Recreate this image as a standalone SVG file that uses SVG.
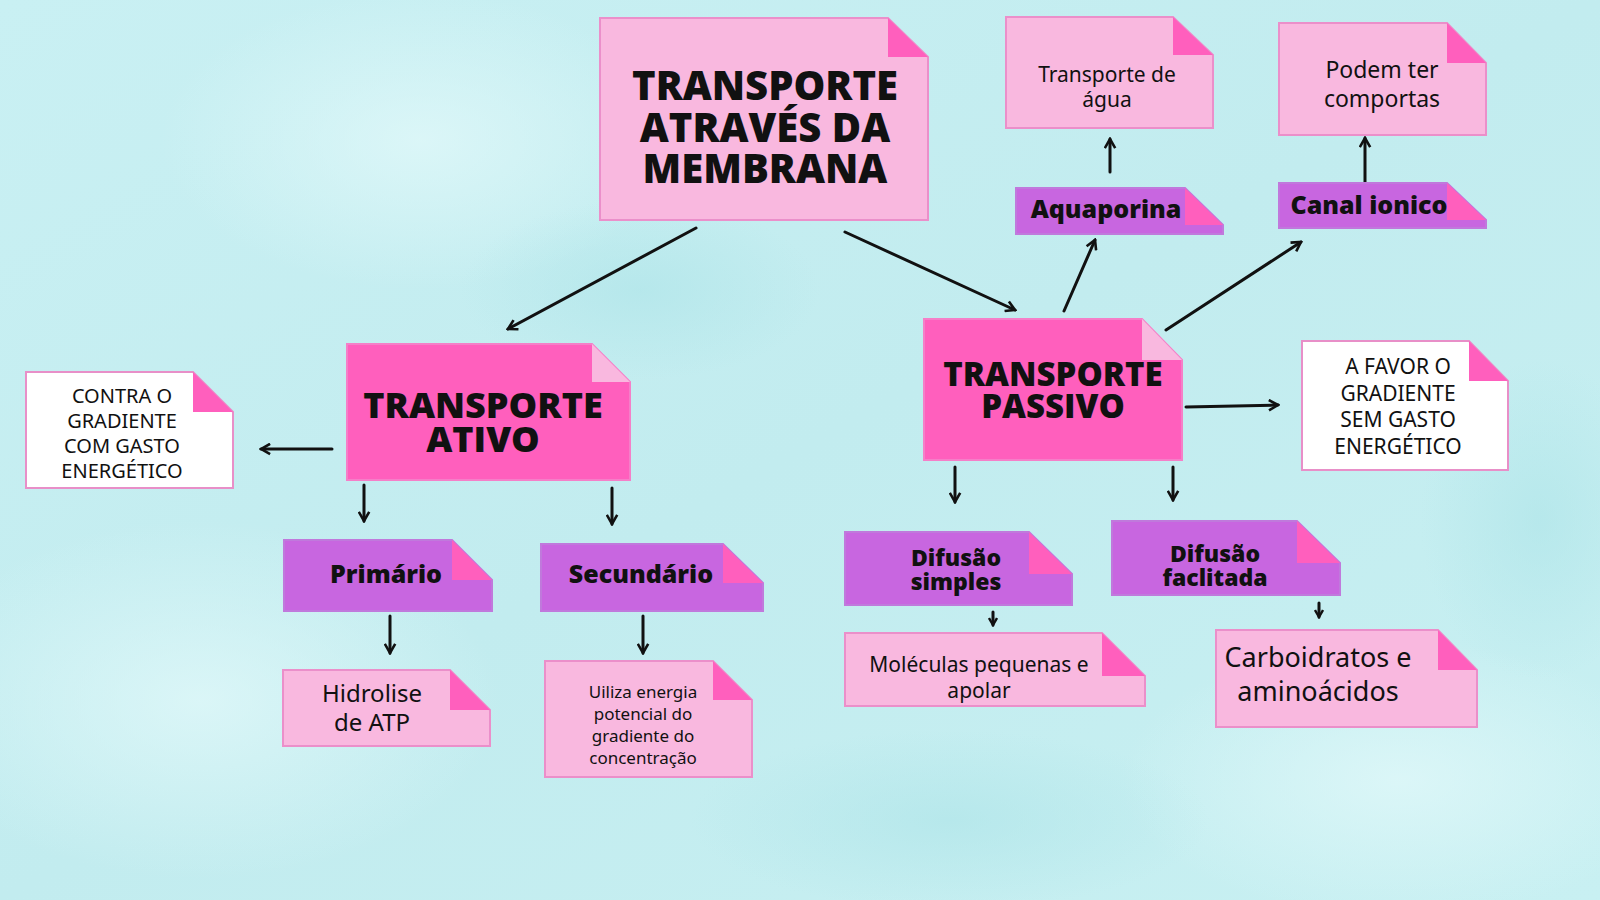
<svg xmlns="http://www.w3.org/2000/svg" width="1600" height="900" viewBox="0 0 1600 900">
<defs>
<linearGradient id="bg" x1="0" y1="0" x2="1" y2="1">
<stop offset="0" stop-color="#c9f0f3"/>
<stop offset="0.5" stop-color="#c2ecef"/>
<stop offset="1" stop-color="#c8f0f2"/>
</linearGradient>
<radialGradient id="blob1" cx="0.5" cy="0.5" r="0.5">
<stop offset="0" stop-color="#e0f8f9" stop-opacity="0.8"/>
<stop offset="1" stop-color="#e0f8f9" stop-opacity="0"/>
</radialGradient>
<radialGradient id="blob2" cx="0.5" cy="0.5" r="0.5">
<stop offset="0" stop-color="#ade4e8" stop-opacity="0.6"/>
<stop offset="1" stop-color="#ade4e8" stop-opacity="0"/>
</radialGradient>
<marker id="ah" viewBox="0 0 10 10" refX="8.5" refY="5" markerWidth="13" markerHeight="13" markerUnits="userSpaceOnUse" orient="auto">
<path d="M1.5,1 L8.5,5 L1.5,9" fill="none" stroke="#111" stroke-width="2" stroke-linejoin="miter"/>
</marker>
<marker id="ahs" viewBox="0 0 10 10" refX="8.5" refY="5" markerWidth="10" markerHeight="10" markerUnits="userSpaceOnUse" orient="auto">
<path d="M1.5,1 L8.5,5 L1.5,9" fill="none" stroke="#111" stroke-width="2.4"/>
</marker>
</defs>
<style>
.lp{fill:#f9b8df;stroke:#eb8fca;stroke-width:2}
.hp{fill:#ff5fbd;stroke:#f57fc8;stroke-width:2}
.pu{fill:#c866e0;stroke:#c079dc;stroke-width:2}
.wh{fill:#ffffff;stroke:#e88fc8;stroke-width:2}
.fd{fill:#ff5fbd}
.fl{fill:#f9b8df}
.tb{font-family:"Open Sans","Noto Sans",sans-serif;font-weight:800;fill:#111;text-anchor:middle}
.tr{font-family:"Noto Sans","Open Sans",sans-serif;font-weight:400;fill:#111;text-anchor:middle}
.ln{fill:none;stroke:#111;stroke-width:3;stroke-linecap:round}
</style>
<rect width="1600" height="900" fill="url(#bg)"/>
<ellipse cx="420" cy="140" rx="260" ry="150" fill="url(#blob1)"/>
<ellipse cx="200" cy="700" rx="300" ry="180" fill="url(#blob1)"/>
<ellipse cx="1400" cy="780" rx="280" ry="140" fill="url(#blob1)"/>
<ellipse cx="640" cy="290" rx="180" ry="90" fill="url(#blob2)"/>
<ellipse cx="950" cy="820" rx="260" ry="90" fill="url(#blob2)"/>
<ellipse cx="1540" cy="520" rx="120" ry="160" fill="url(#blob2)"/>

<g id="connectors">
<line class="ln" x1="696" y1="228" x2="508" y2="329" marker-end="url(#ah)"/>
<line class="ln" x1="845" y1="232" x2="1015" y2="310" marker-end="url(#ah)"/>
<line class="ln" x1="1064" y1="311" x2="1095" y2="240" marker-end="url(#ah)"/>
<line class="ln" x1="1166" y1="330" x2="1301" y2="242" marker-end="url(#ah)"/>
<line class="ln" x1="1186" y1="407" x2="1278" y2="405" marker-end="url(#ah)"/>
<line class="ln" x1="955" y1="467" x2="955" y2="502" marker-end="url(#ah)"/>
<line class="ln" x1="1173" y1="467" x2="1173" y2="500" marker-end="url(#ah)"/>
<line class="ln" x1="332" y1="449" x2="261" y2="449" marker-end="url(#ah)"/>
<line class="ln" x1="364" y1="485" x2="364" y2="521" marker-end="url(#ah)"/>
<line class="ln" x1="612" y1="488" x2="612" y2="524" marker-end="url(#ah)"/>
<line class="ln" x1="390" y1="616" x2="390" y2="653" marker-end="url(#ah)"/>
<line class="ln" x1="643" y1="616" x2="643" y2="653" marker-end="url(#ah)"/>
<line class="ln" x1="1110" y1="172" x2="1110" y2="139" marker-end="url(#ah)"/>
<line class="ln" x1="1365" y1="182" x2="1365" y2="138" marker-end="url(#ah)"/>
<line class="ln" x1="993" y1="612" x2="993" y2="625" marker-end="url(#ahs)"/>
<line class="ln" x1="1319" y1="603" x2="1319" y2="617" marker-end="url(#ahs)"/>
</g>

<g id="n-main">
<polygon class="lp" points="600,18 888,18 928,57 928,220 600,220"/>
<polygon class="fd" points="888,18 888,57 928,57"/>
<text class="tb" font-size="40" x="765" y="100">TRANSPORTE</text>
<text class="tb" font-size="40" x="765" y="142">ATRAVÉS DA</text>
<text class="tb" font-size="40" x="765" y="183">MEMBRANA</text>
</g>

<g id="n-ativo">
<polygon class="hp" points="347,344 592,344 630,382 630,480 347,480"/>
<polygon class="fl" points="592,344 592,382 630,382"/>
<text class="tb" font-size="36" x="483" y="418">TRANSPORTE</text>
<text class="tb" font-size="36" x="483" y="452">ATIVO</text>
</g>

<g id="n-contra">
<polygon class="wh" points="26,372 193,372 233,412 233,488 26,488"/>
<polygon class="fd" points="193,372 193,412 233,412"/>
<text class="tr" font-size="20" x="122" y="403">CONTRA O</text>
<text class="tr" font-size="20" x="122" y="428">GRADIENTE</text>
<text class="tr" font-size="20" x="122" y="453">COM GASTO</text>
<text class="tr" font-size="20" x="122" y="478">ENERGÉTICO</text>
</g>

<g id="n-primario">
<polygon class="pu" points="284,540 452,540 492,580 492,611 284,611"/>
<polygon class="fd" points="452,540 452,580 492,580"/>
<text class="tb" font-size="25" x="386" y="583">Primário</text>
</g>

<g id="n-secundario">
<polygon class="pu" points="541,544 723,544 763,583 763,611 541,611"/>
<polygon class="fd" points="723,544 723,583 763,583"/>
<text class="tb" font-size="25" x="641" y="583">Secundário</text>
</g>

<g id="n-hidrolise">
<polygon class="lp" points="283,670 450,670 490,710 490,746 283,746"/>
<polygon class="fd" points="450,670 450,710 490,710"/>
<text class="tr" font-size="24" x="372" y="702">Hidrolise</text>
<text class="tr" font-size="24" x="372" y="731">de ATP</text>
</g>

<g id="n-utiliza">
<polygon class="lp" points="545,661 713,661 752,700 752,777 545,777"/>
<polygon class="fd" points="713,661 713,700 752,700"/>
<text class="tr" font-size="17" x="643" y="698">Uiliza energia</text>
<text class="tr" font-size="17" x="643" y="720">potencial do</text>
<text class="tr" font-size="17" x="643" y="742">gradiente do</text>
<text class="tr" font-size="17" x="643" y="764">concentração</text>
</g>

<g id="n-passivo">
<polygon class="hp" points="924,319 1142,319 1182,360 1182,460 924,460"/>
<polygon class="fl" points="1142,319 1142,360 1182,360"/>
<text class="tb" font-size="33" x="1053" y="386">TRANSPORTE</text>
<text class="tb" font-size="33" x="1053" y="418">PASSIVO</text>
</g>

<g id="n-favor">
<polygon class="wh" points="1302,341 1469,341 1508,381 1508,470 1302,470"/>
<polygon class="fd" points="1469,341 1469,381 1508,381"/>
<text class="tr" font-size="21" x="1398" y="374">A FAVOR O</text>
<text class="tr" font-size="21" x="1398" y="401">GRADIENTE</text>
<text class="tr" font-size="21" x="1398" y="427">SEM GASTO</text>
<text class="tr" font-size="21" x="1398" y="454">ENERGÉTICO</text>
</g>

<g id="n-aquaporina">
<polygon class="pu" points="1016,188 1185,188 1223,225 1223,234 1016,234"/>
<polygon class="fd" points="1185,188 1185,225 1223,225"/>
<text class="tb" font-size="25" x="1106" y="218">Aquaporina</text>
</g>

<g id="n-canal">
<polygon class="pu" points="1279,183 1447,183 1486,220 1486,228 1279,228"/>
<polygon class="fd" points="1447,183 1447,220 1486,220"/>
<text class="tb" font-size="25" x="1369" y="214">Canal ionico</text>
</g>

<g id="n-agua">
<polygon class="lp" points="1006,17 1173,17 1213,55 1213,128 1006,128"/>
<polygon class="fd" points="1173,17 1173,55 1213,55"/>
<text class="tr" font-size="21" x="1107" y="82">Transporte de</text>
<text class="tr" font-size="21" x="1107" y="107">água</text>
</g>

<g id="n-podem">
<polygon class="lp" points="1279,23 1447,23 1486,63 1486,135 1279,135"/>
<polygon class="fd" points="1447,23 1447,63 1486,63"/>
<text class="tr" font-size="23" x="1382" y="78">Podem ter</text>
<text class="tr" font-size="23" x="1382" y="107">comportas</text>
</g>

<g id="n-difsimples">
<polygon class="pu" points="845,532 1029,532 1072,574 1072,605 845,605"/>
<polygon class="fd" points="1029,532 1029,574 1072,574"/>
<text class="tb" font-size="23" x="956" y="566">Difusão</text>
<text class="tb" font-size="23" x="956" y="590">simples</text>
</g>

<g id="n-diffacl">
<polygon class="pu" points="1112,521 1297,521 1340,563 1340,595 1112,595"/>
<polygon class="fd" points="1297,521 1297,563 1340,563"/>
<text class="tb" font-size="23" x="1215" y="562">Difusão</text>
<text class="tb" font-size="23" x="1215" y="586">faclitada</text>
</g>

<g id="n-moleculas">
<polygon class="lp" points="845,633 1102,633 1145,676 1145,706 845,706"/>
<polygon class="fd" points="1102,633 1102,676 1145,676"/>
<text class="tr" font-size="21" x="979" y="672">Moléculas pequenas e</text>
<text class="tr" font-size="21" x="979" y="698">apolar</text>
</g>

<g id="n-carbo">
<polygon class="lp" points="1216,630 1438,630 1477,670 1477,727 1216,727"/>
<polygon class="fd" points="1438,630 1438,670 1477,670"/>
<text class="tr" font-size="27" x="1318" y="667">Carboidratos e</text>
<text class="tr" font-size="27" x="1318" y="701">aminoácidos</text>
</g>
</svg>
